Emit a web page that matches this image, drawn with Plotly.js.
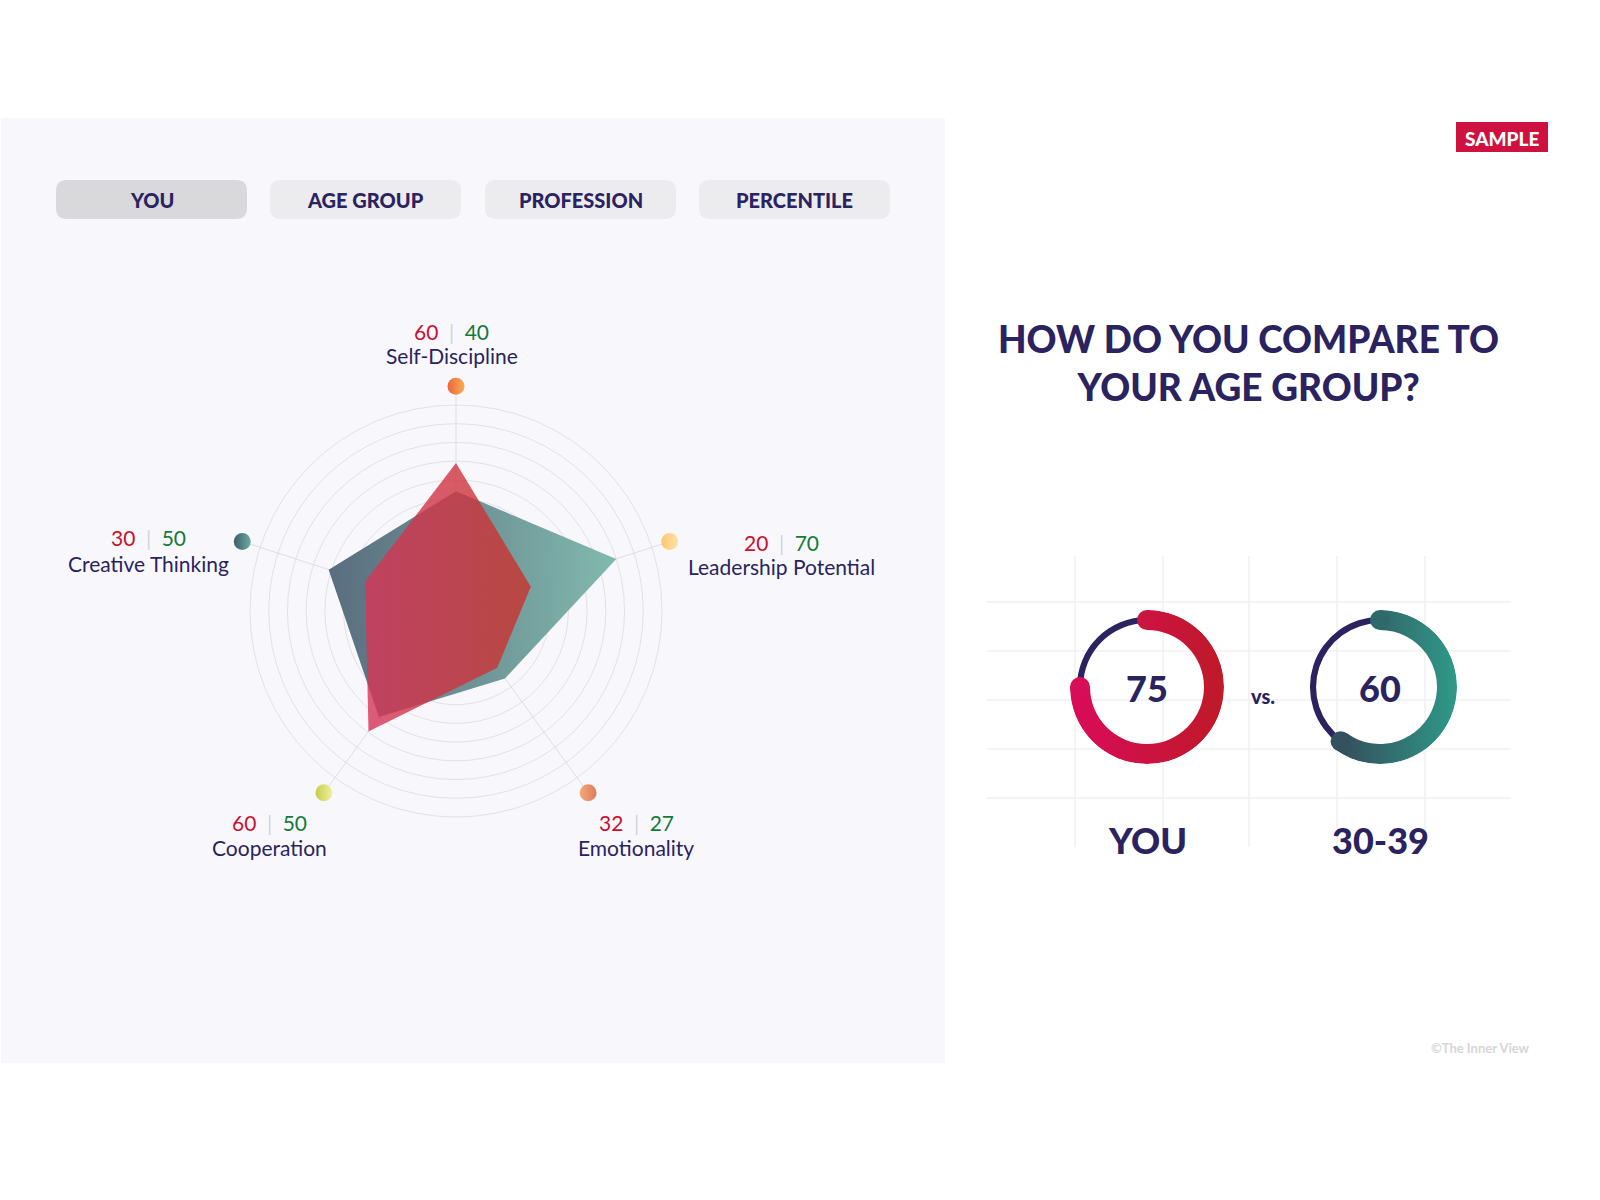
<!DOCTYPE html>
<html><head><meta charset="utf-8">
<script src="https://cdn.plot.ly/plotly-3.0.1.min.js"></script>
<style>html,body{margin:0;padding:0;background:#fff}#chart{width:1600px;height:1200px}</style>
</head><body><div id="chart"></div>
<script>
// ---------------- DATA ----------------
const categories = ['Self-Discipline', 'Leadership Potential', 'Emotionality', 'Cooperation', 'Creative Thinking'];
const youScores = [60, 20, 32, 60, 30];
const ageGroupScores = [40, 70, 27, 50, 50];
// polygon radii as drawn on the radar (ring units, 10 rings + outer edge at 11)
const youRadar = [7.9, 4.2, 3.75, 7.95, 5.1];
const ageGroupRadar = [6.4, 9.0, 4.45, 7.0, 7.15];
const ringValues = [1, 2, 3, 4, 5, 6, 7, 8, 9, 10, 11];
const tabs = ['YOU', 'AGE GROUP', 'PROFESSION', 'PERCENTILE'];
const compareScores = [75, 60];
const compareLabels = ['YOU', '30-39'];
const headline = ['HOW DO YOU COMPARE TO', 'YOUR AGE GROUP?'];

// ---------------- STYLE / LAYOUT ----------------
const W = 1600, H = 1200;
const X = v => v / W, Y = v => 1 - v / H;
const FONT = 'Lato, "Open Sans", sans-serif';
const NAVY = '#2a2360', RED = '#c8102e', GREEN = '#137a3b', SEP = '#d4d4da';
const RADAR_MAX = 12.6, DOT_R = 12, RING_PX = 206 / 11;
const RADAR_C = [456, 611], RADAR_R = RADAR_MAX * RING_PX;
const dotColors = ['#ef6438', '#fcc672', '#f3ab7a', '#c6ce44', '#405c68'];
const dotGrad   = ['#f8ae54', '#fde3a8', '#df7a5e', '#f1efa6', '#6caca3'];
// label anchors (pixels): [x, y of numbers line, y of name line]
const labelPos = [[452, 332, 356], [781, 542, 567], [636, 822, 847], [269, 822, 847], [148, 538, 563]];
const tabX = [[56, 247], [270, 461], [485, 676], [699, 890]];
const donutCenters = [[1147, 687], [1380, 687]];
const donutOuter = 77;
// [start cap, end cap, flat fallback, gradient left, gradient right]
const arcColors = [['#ca1540', '#d80d57', '#cc1442', '#da0b5a', '#be1a28'], ['#2f6a6a', '#34525e', '#2f7a74', '#354a5a', '#2e9a88']];

function ann(text, x, y, size, color, opts) {
  return Object.assign({
    text: text, x: X(x), y: Y(y), xref: 'paper', yref: 'paper',
    xanchor: 'center', yanchor: 'middle', showarrow: false,
    font: {family: FONT, size: size, color: color}
  }, opts || {});
}
function roundRect(x0, y0, x1, y1, r, fill) {
  const rx = r / W, ry = r / H;
  const a = X(x0), b = X(x1), t = Y(y0), u = Y(y1);
  const p = `M${a+rx},${t} L${b-rx},${t} Q${b},${t} ${b},${t-ry} L${b},${u+ry} Q${b},${u} ${b-rx},${u} L${a+rx},${u} Q${a},${u} ${a},${u+ry} L${a},${t-ry} Q${a},${t} ${a+rx},${t} Z`;
  return {type: 'path', path: p, xref: 'paper', yref: 'paper', fillcolor: fill, line: {width: 0}, layer: 'below'};
}
const bold = (size, color) => ({family: FONT, size: size, color: color, weight: 900});

const shapes = [];
const annotations = [];
shapes.push({type: 'rect', xref: 'paper', yref: 'paper', x0: X(1), x1: X(945), y0: Y(118), y1: Y(1063), fillcolor: '#f8f8fc', line: {width: 0}, layer: 'below'});
tabs.forEach((t, i) => {
  shapes.push(roundRect(tabX[i][0], 180, tabX[i][1], 219, 11, i === 0 ? '#d9d9dc' : '#ececef'));
  annotations.push(ann(t, (tabX[i][0] + tabX[i][1]) / 2, 200, 20, NAVY, {font: bold(20, NAVY)}));
});
categories.forEach((c, i) => {
  const [lx, ly1, ly2] = labelPos[i];
  const nums = `<span style="color:${RED}">${youScores[i]}</span>\u2002<span style="color:${SEP}">|</span>\u2002<span style="color:${GREEN}">${ageGroupScores[i]}</span>`;
  annotations.push(ann(nums, lx, ly1, 21, RED));
  annotations.push(ann(c, lx, ly2, 21, NAVY));
});
shapes.push({type: 'rect', xref: 'paper', yref: 'paper', x0: X(1456), x1: X(1548), y0: Y(122), y1: Y(152), fillcolor: '#cf1142', line: {width: 0}, layer: 'below'});
annotations.push(ann('SAMPLE', 1502, 138, 19, '#ffffff', {font: bold(19, '#ffffff')}));
annotations.push(ann(headline.join('<br>'), 1248, 362, 37, NAVY, {font: bold(37, NAVY)}));
[602, 651, 700, 749, 798].forEach(y => shapes.push({type: 'line', xref: 'paper', yref: 'paper', x0: X(987), x1: X(1511), y0: Y(y), y1: Y(y), line: {color: '#f1f1f4', width: 1.5}, layer: 'below'}));
[1075, 1163, 1249, 1337, 1425].forEach(x => shapes.push({type: 'line', xref: 'paper', yref: 'paper', x0: X(x), x1: X(x), y0: Y(556), y1: Y(847), line: {color: '#f1f1f4', width: 1.5}, layer: 'below'}));
compareScores.forEach((s, i) => {
  const [cx, cy] = donutCenters[i];
  annotations.push(ann(String(s), cx, cy + 1, 36, NAVY, {font: bold(36, NAVY)}));
  annotations.push(ann(compareLabels[i], cx, 840, 36, NAVY, {font: bold(36, NAVY)}));
});
annotations.push(ann('vs.', 1263, 696, 20, NAVY, {font: bold(20, NAVY)}));
annotations.push(ann('©The Inner View', 1480, 1048, 13, '#d6d6da', {font: {family: FONT, size: 13, color: '#d6d6da', weight: 700}}));

// ---------------- TRACES ----------------
const traces = [];
const sr = [], st = [];
categories.forEach(c => { sr.push(0, DOT_R, null); st.push(c, c, null); });
traces.push({type: 'scatterpolar', subplot: 'polar', r: sr, theta: st, mode: 'lines', connectgaps: false,
  line: {color: '#dcdce2', width: 1}, hoverinfo: 'skip'});
traces.push({type: 'scatterpolar', subplot: 'polar', r: ageGroupRadar.concat([ageGroupRadar[0]]), theta: categories.concat([categories[0]]),
  mode: 'lines', fill: 'toself', line: {width: 0, color: 'rgba(0,0,0,0)'},
  fillcolor: 'rgba(104,142,150,0.95)', hoverinfo: 'skip'});
traces.push({type: 'scatterpolar', subplot: 'polar', r: youRadar.concat([youRadar[0]]), theta: categories.concat([categories[0]]),
  mode: 'lines', fill: 'toself', line: {width: 0, color: 'rgba(0,0,0,0)'},
  fillcolor: 'rgba(208,50,62,0.8)', hoverinfo: 'skip'});
traces.push({type: 'scatterpolar', subplot: 'polar', r: categories.map(() => DOT_R), theta: categories, mode: 'markers',
  marker: {size: 17, color: dotColors, gradient: {type: 'horizontal', color: dotGrad}, line: {width: 0}},
  cliponaxis: false, hoverinfo: 'skip'});

compareScores.forEach((s, i) => {
  const sp = i === 0 ? 'polar2' : 'polar3';
  const deg = s * 3.6, rest = (100 - s) * 3.6;
  traces.push({type: 'barpolar', subplot: sp, r: [0.08], base: [0.83], theta: [deg + rest / 2], width: [rest],
    marker: {color: NAVY, line: {width: 0}}, hoverinfo: 'skip'});
  traces.push({type: 'barpolar', subplot: sp, r: [0.26], base: [0.74], theta: [deg / 2], width: [deg],
    marker: {color: arcColors[i][2], line: {width: 0}}, hoverinfo: 'skip'});
  traces.push({type: 'scatterpolar', subplot: sp, r: [0.87, 0.87], theta: [0, deg], mode: 'markers',
    marker: {size: 20, color: [arcColors[i][0], arcColors[i][1]], line: {width: 0}}, cliponaxis: false, hoverinfo: 'skip'});
});

const hiddenPolar = dom => ({
  domain: dom, bgcolor: 'rgba(0,0,0,0)', hole: 0,
  radialaxis: {range: [0, 1], visible: false, showgrid: false},
  angularaxis: {visible: false, showgrid: false, rotation: 90, direction: 'clockwise', thetaunit: 'degrees'}
});
const donutDom = c => ({x: [X(c[0] - donutOuter), X(c[0] + donutOuter)], y: [Y(c[1] + donutOuter), Y(c[1] - donutOuter)]});

const layout = {
  width: W, height: H, margin: {l: 0, r: 0, t: 0, b: 0, pad: 0},
  paper_bgcolor: '#ffffff', plot_bgcolor: '#ffffff', showlegend: false,
  font: {family: FONT},
  polar: {
    domain: {x: [X(RADAR_C[0] - RADAR_R), X(RADAR_C[0] + RADAR_R)], y: [Y(RADAR_C[1] + RADAR_R), Y(RADAR_C[1] - RADAR_R)]},
    bgcolor: 'rgba(0,0,0,0)', gridshape: 'circular', hole: 0,
    radialaxis: {range: [0, RADAR_MAX], tickmode: 'array', tickvals: ringValues, showgrid: true, gridcolor: '#e1e1e6', gridwidth: 1,
      showline: false, showticklabels: false, ticks: '', layer: 'below traces'},
    angularaxis: {type: 'category', categoryorder: 'array', categoryarray: categories, rotation: 90, direction: 'clockwise',
      showgrid: false, showline: false, showticklabels: false, ticks: '', layer: 'below traces'}
  },
  polar2: hiddenPolar(donutDom(donutCenters[0])),
  polar3: hiddenPolar(donutDom(donutCenters[1])),
  shapes: shapes, annotations: annotations
};

function addGradient(svg, id, stops) {
  const ns = 'http://www.w3.org/2000/svg';
  let defs = svg.querySelector('defs');
  if (!defs) { defs = document.createElementNS(ns, 'defs'); svg.insertBefore(defs, svg.firstChild); }
  const lg = document.createElementNS(ns, 'linearGradient');
  lg.setAttribute('id', id);
  lg.setAttribute('x1', '0'); lg.setAttribute('y1', '0'); lg.setAttribute('x2', '1'); lg.setAttribute('y2', '0');
  stops.forEach(s => {
    const st = document.createElementNS(ns, 'stop');
    st.setAttribute('offset', s[0]); st.setAttribute('stop-color', s[1]); st.setAttribute('stop-opacity', s[2]);
    lg.appendChild(st);
  });
  defs.appendChild(lg);
  return 'url(#' + id + ')';
}
function paint(el, url) { if (el) { el.style.fill = url; el.style.fillOpacity = 1; } }

Plotly.newPlot('chart', traces, layout, {staticPlot: true, displayModeBar: false}).then(gd => {
  const svg = gd.querySelector('svg.main-svg');
  const radarTraces = gd.querySelectorAll('g.polar .scatterlayer .trace');
  paint(radarTraces[1] && radarTraces[1].querySelector('path.js-fill'),
    addGradient(svg, 'gAge', [[0, '#536779', 0.96], [1, '#7db7ab', 0.96]]));
  paint(radarTraces[2] && radarTraces[2].querySelector('path.js-fill'),
    addGradient(svg, 'gYou', [[0, '#d83459', 0.8], [1, '#c8322a', 0.8]]));
  ['polar2', 'polar3'].forEach((sp, i) => {
    const bars = gd.querySelectorAll('g.' + sp + ' .barlayer .trace');
    const b = bars[1] && bars[1].querySelector('path');
    paint(b, addGradient(svg, 'gArc' + i, [[0, arcColors[i][3], 1], [1, arcColors[i][4], 1]]));
  });
});
</script></body></html>
